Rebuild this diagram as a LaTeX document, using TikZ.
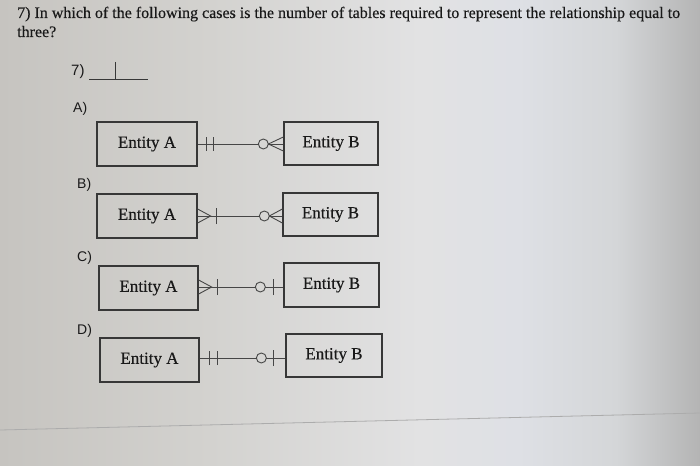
\documentclass[tikz,border=0pt]{standalone}
\usepackage{fontspec}
\setmainfont{Liberation Serif}
\newfontfamily\heavyserif[FakeBold=0.3]{Liberation Serif}
\newfontfamily\lblfont{Liberation Sans}
\usetikzlibrary{calc}
\definecolor{bgA}{RGB}{198,196,192}
\definecolor{bgB}{RGB}{211,210,207}
\definecolor{bgC}{RGB}{226,226,227}
\definecolor{bgD}{RGB}{222,224,229}
\definecolor{bgE}{RGB}{212,214,216}
\definecolor{bgF}{RGB}{180,180,180}
\definecolor{ink}{RGB}{25,25,25}
\definecolor{lineink}{RGB}{55,55,55}
\definecolor{connink}{RGB}{70,70,70}
\pgfdeclarehorizontalshading{screenbg}{100bp}{%
  color(0bp)=(bgA); color(25bp)=(bgA); color(40bp)=(bgB); color(55bp)=(bgC);
  color(62bp)=(bgD); color(69bp)=(bgE); color(75bp)=(bgF); color(100bp)=(bgF)}
\tikzset{
  entbox/.style={draw=lineink, line width=1.3pt, rectangle, minimum height=44pt,
    font=\heavyserif\fontsize{17}{20}\selectfont, text=ink, inner sep=0pt},
  conn/.style={draw=connink, line width=0.9pt},
  qtext/.style={font=\heavyserif\fontsize{16}{19}\selectfont, text=ink, anchor=base west, inner sep=0pt},
  lbl/.style={font=\lblfont\fontsize{14}{16}\selectfont, text=ink, anchor=base west, inner sep=0pt}
}
\begin{document}
\begin{tikzpicture}[x=1pt,y=-1pt]
\shade[shading=screenbg] (0,0) rectangle (700,465);
\useasboundingbox (0,0) rectangle (700,465);
\draw[gray!65!white, line width=0.8pt] (0,430) -- (700,413);

% question
\node[qtext] (q1) at (17,18) {7) In which of the following cases is the number of tables required to represent the relationship equal to};
\node[qtext] (q2) at (17,37) {three?};
\node[lbl, font=\lblfont\fontsize{15}{17}\selectfont] (n7) at (71,76) {7)};
\coordinate (u1) at (89,79);
\coordinate (u2) at (148,79);
\draw[lineink, line width=0.9pt] (u1) -- (u2);
\draw[lineink, line width=0.9pt] (115,62) -- (115,79);

% labels
\node[lbl] (la) at (73,113) {A)};
\node[lbl] (lb) at (77,188) {B)};
\node[lbl] (lc) at (77,261) {C)};
\node[lbl] (ld) at (77,334) {D)};

% entity boxes
\node[entbox, minimum width=100pt] (a1) at (147,144) {Entity A};
\node[entbox, minimum width=94pt, minimum height=43pt] (b1) at (331,143.5) {Entity B};
\node[entbox, minimum width=100pt] (a2) at (147,216) {Entity A};
\node[entbox, minimum width=95pt, minimum height=43pt] (b2) at (330.5,214.5) {Entity B};
\node[entbox, minimum width=99pt] (a3) at (148.5,288) {Entity A};
\node[entbox, minimum width=95pt] (b3) at (331.5,285) {Entity B};
\node[entbox, minimum width=99pt] (a4) at (149.5,360) {Entity A};
\node[entbox, minimum width=96pt, minimum height=43pt] (b4) at (334,355.5) {Entity B};

% connector ends
\coordinate (l1) at (a1.east); \coordinate (r1) at (b1.west |- a1.east);
\coordinate (l2) at (a2.east); \coordinate (r2) at (b2.west |- a2.east);
\coordinate (l3) at ([yshift=1pt]a3.east); \coordinate (r3) at (b3.west |- l3);
\coordinate (l4) at ([yshift=2pt]a4.east); \coordinate (r4) at (b4.west |- l4);

% A) one and only one  --  zero or many
\draw[conn] (l1) -- ([xshift=-25pt]r1);
\draw[conn] ([xshift=-15pt]r1) -- (r1);
\draw[conn] ([xshift=-20pt]r1) circle (5pt);
\draw[conn] ([xshift=9pt,yshift=-7pt]l1) -- ([xshift=9pt,yshift=7pt]l1);
\draw[conn] ([xshift=16pt,yshift=-7pt]l1) -- ([xshift=16pt,yshift=7pt]l1);
\draw[conn] ([yshift=-7pt]r1) -- ([xshift=-15pt]r1) -- ([yshift=7pt]r1);

% B) one or many  --  zero or many
\draw[conn] (l2) -- ([xshift=-23pt]r2);
\draw[conn] ([xshift=-13pt]r2) -- (r2);
\draw[conn] ([xshift=-18pt]r2) circle (5pt);
\draw[conn] ([yshift=-7pt]l2) -- ([xshift=13pt]l2) -- ([yshift=7pt]l2);
\draw[conn] ([xshift=19pt,yshift=-8pt]l2) -- ([xshift=19pt,yshift=8pt]l2);
\draw[conn] ([yshift=-7pt]r2) -- ([xshift=-13pt]r2) -- ([yshift=7pt]r2);

% C) one or many  --  zero or one
\draw[conn] (l3) -- ([xshift=-28pt]r3);
\draw[conn] ([xshift=-18pt]r3) -- (r3);
\draw[conn] ([xshift=-23pt]r3) circle (5pt);
\draw[conn] ([yshift=-7pt]l3) -- ([xshift=13pt]l3) -- ([yshift=7pt]l3);
\draw[conn] ([xshift=19pt,yshift=-8pt]l3) -- ([xshift=19pt,yshift=8pt]l3);
\draw[conn] ([xshift=-10pt,yshift=-8pt]r3) -- ([xshift=-10pt,yshift=8pt]r3);

% D) one and only one  --  zero or one
\draw[conn] (l4) -- ([xshift=-29pt]r4);
\draw[conn] ([xshift=-19pt]r4) -- (r4);
\draw[conn] ([xshift=-24pt]r4) circle (5pt);
\draw[conn] ([xshift=10pt,yshift=-7pt]l4) -- ([xshift=10pt,yshift=7pt]l4);
\draw[conn] ([xshift=18pt,yshift=-7pt]l4) -- ([xshift=18pt,yshift=7pt]l4);
\draw[conn] ([xshift=-12pt,yshift=-8pt]r4) -- ([xshift=-12pt,yshift=8pt]r4);
\end{tikzpicture}
\end{document}
